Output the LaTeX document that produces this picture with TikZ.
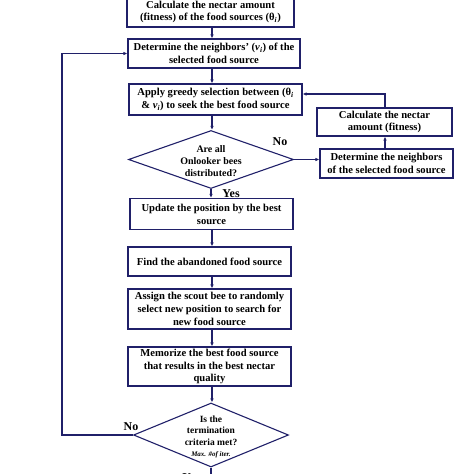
\documentclass[tikz,border=0pt]{standalone}
\usepackage{fontspec}
\setmainfont{Liberation Serif}
\usetikzlibrary{shapes.geometric,arrows.meta}
\definecolor{navy}{RGB}{32,32,105}
\begin{document}
\begin{tikzpicture}[x=1pt,y=-1pt,
  box/.style={draw=navy,line width=1.1pt,rectangle,inner sep=0pt,align=center,font=\bfseries\fontsize{10.6}{12.8}\selectfont},
  dia/.style={draw=navy,line width=1.1pt,diamond,inner sep=0pt},
  txt/.style={align=center,font=\bfseries\fontsize{10}{12.3}\selectfont,inner sep=0pt},
  lbl/.style={font=\bfseries\fontsize{12}{14}\selectfont,inner sep=0pt},
  arr/.style={draw=navy,line width=1.1pt,-{Latex[length=4pt,width=3.5pt]}}]
\useasboundingbox (0,0) rectangle (474,474);
\clip (0,0) rectangle (474,474);
\node[box,minimum width=167pt,minimum height=30pt] (b1) at (210.5,12) {Calculate the nectar amount\\(fitness) of the food sources (θ\textsubscript{\itshape i})};
\node[box,minimum width=172pt,minimum height=29pt] (b2) at (214,53.5) {Determine the neighbors' (\textit{v}\textsubscript{\itshape i}) of the\\selected food source};
\node[box,minimum width=173pt,minimum height=31pt] (b3) at (215.5,99.5) {Apply greedy selection between (θ\textsubscript{\itshape i}\\\& \textit{v}\textsubscript{\itshape i}) to seek the best food source};
\node[dia,minimum width=165pt,minimum height=58pt] (d1) at (211,159.5) {};
\node[txt] (d1t) at (211,161) {Are all\\Onlooker bees\\distributed?};
\node[box,minimum width=133pt,minimum height=29pt] (rn) at (386.5,163.5) {Determine the neighbors\\of the selected food source};
\node[box,minimum width=135pt,minimum height=28pt] (rc) at (384.5,122) {Calculate the nectar\\amount (fitness)};
\node[box,minimum width=163pt,minimum height=31pt] (b4) at (211.5,214) {Update the position by the best\\source};
\node[box,minimum width=163pt,minimum height=29pt] (b5) at (209.5,261.5) {Find the abandoned food source};
\node[box,minimum width=163pt,minimum height=40pt] (b6) at (209.5,309) {Assign the scout bee to randomly\\select new position to search for\\new food source};
\node[box,minimum width=163pt,minimum height=39pt] (b7) at (209.5,366.5) {Memorize the best food source\\that results in the best nectar\\quality};
\node[dia,minimum width=155pt,minimum height=64pt] (d2) at (211,435) {};
\node[txt,font=\bfseries\fontsize{9.5}{11.5}\selectfont] (d2t) at (211,437) {Is the\\termination\\criteria met?\\{\fontsize{7}{9}\selectfont\itshape Max. \#of iter.}};
\node[lbl] (no1) at (280,142) {No};
\node[lbl] (yes1) at (231,194) {Yes};
\node[lbl] (no2) at (131,427) {No};
\node[lbl] (yes2) at (191,478) {Yes};
\coordinate (sp) at (212,0);
\draw[arr] (b1.south -| sp) -- (b2.north -| sp);
\draw[arr] (b2.south -| sp) -- (b3.north -| sp);
\draw[arr] (b3.south -| sp) -- (d1.north -| sp);
\draw[arr] (d1.east) -- (d1.east -| rn.west);
\draw[arr] (rn.north -| 385,0) -- (rc.south -| 385,0);
\coordinate (rt) at (385,94);
\draw[arr] (rc.north -| rt) -- (rt) -- (rt -| b3.east);
\draw[arr] (d1.south) -- (b4.north -| d1.south);
\draw[arr] (b4.south -| sp) -- (b5.north -| sp);
\draw[arr] (b5.south -| sp) -- (b6.north -| sp);
\draw[arr] (b6.south -| sp) -- (b7.north -| sp);
\draw[arr] (b7.south -| sp) -- (d2.north -| sp);
\coordinate (lp) at (62,435);
\draw[arr] (d2.west) -- (lp) |- (b2.west);
\draw[navy,line width=1.1pt] (d2.south) -- ++(0,15);
\end{tikzpicture}
\end{document}
